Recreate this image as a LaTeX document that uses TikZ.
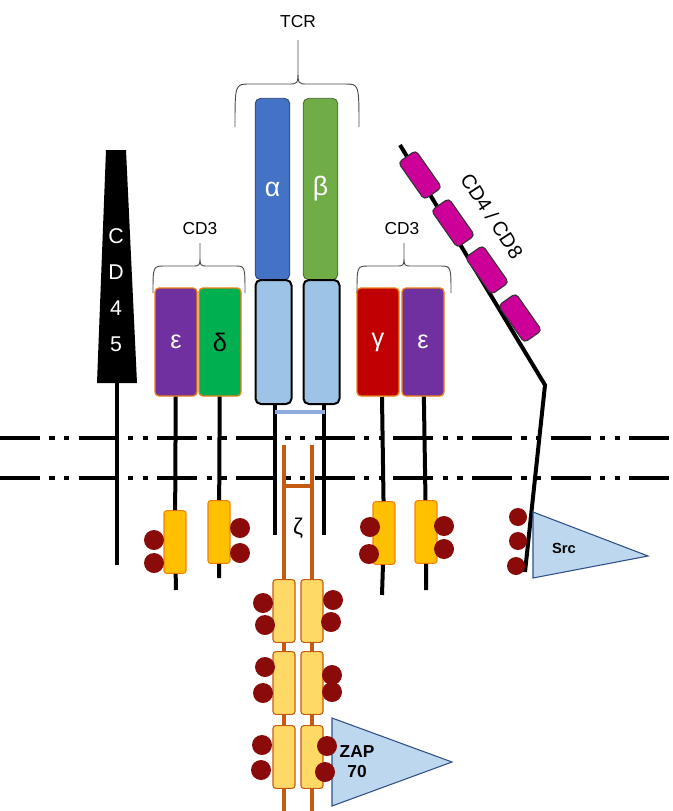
\documentclass[tikz,border=0pt]{standalone}
\usepackage{fontspec}
\setmainfont{Liberation Sans}
\usetikzlibrary{positioning, shapes.geometric}
\definecolor{cdpurple}{HTML}{7030A0}
\definecolor{cdgreen}{HTML}{00B050}
\definecolor{cdred}{HTML}{C00000}
\definecolor{tcrblue}{HTML}{4472C4}
\definecolor{tcrgreen}{HTML}{70AD47}
\definecolor{tcrlight}{HTML}{9DC3E6}
\definecolor{itam}{HTML}{FFC000}
\definecolor{itamlight}{HTML}{FFD966}
\definecolor{zorange}{HTML}{C55A11}
\definecolor{kinase}{HTML}{BDD7EE}
\definecolor{phos}{HTML}{8B0A0A}
\definecolor{cdmag}{HTML}{CC0099}

\begin{document}
\begin{tikzpicture}[x=0.75pt, y=-0.75pt,
        chain/.style={rectangle, draw=orange!70!brown, line width=1pt, rounded corners=3pt, minimum width=31.5pt, minimum height=81pt, inner sep=0pt, font=\fontsize{19}{19}\selectfont},
        tcr/.style={rectangle, draw=tcrblue!60!black, line width=0.6pt, rounded corners=4pt, minimum width=26pt, minimum height=136pt, inner sep=0pt, text=white, font=\fontsize{20}{20}\selectfont},
        tcrlow/.style={rectangle, draw, line width=1.5pt, fill=tcrlight, rounded corners=4pt, minimum width=27pt, minimum height=93pt, inner sep=0pt},
        itam/.style={rectangle, draw=orange!80!brown, line width=0.8pt, fill=itam, rounded corners=2pt, minimum width=16.5pt, minimum height=47pt, inner sep=0pt},
        zitam/.style={itam, fill=itamlight, draw=zorange, minimum height=47pt},
        tail/.style={line width=3pt},
        ztail/.style={line width=3pt, zorange},
        dot/.style={fill=phos},
        membrane/.style={line width=3pt, dash pattern=on 30pt off 7pt on 4pt off 7pt on 4pt off 7pt},
        kin/.style={draw=tcrblue!70!black, fill=kinase, line width=0.8pt},
        cdbox/.style={rectangle, draw=black!80, line width=0.8pt, fill=cdmag, rounded corners=3pt, minimum width=34pt, minimum height=16pt, inner sep=0pt, rotate=-55},
        br/.style={line width=0.7pt, draw=black!70},
        lbl/.style={font=\fontsize{13}{13}\selectfont}
        ]
\useasboundingbox (0,0) rectangle (673,811);

% membrane
\draw[membrane] (0,438) -- (673,438);
\draw[membrane] (0,478) -- (673,478);

% CD45
\fill (106,150) -- (126,150) -- (137,383) -- (97,383) -- cycle;
\node[text=white, align=center, font=\fontsize{16}{27}\selectfont] (cd45) at (116,290) {C\\D\\4\\5};
\coordinate (cd45end) at (117,565);
\draw[tail] (117,383) -- (cd45end);

% CD3 left
\node[chain, fill=cdpurple, text=white] (eps1) at (176,342) {ε};
\node[chain, fill=cdgreen] (delta) at (220,342) {δ};
\node[itam] (eps1itam) at (175,542) {};
\node[itam] (deltaitam) at (219,532) {};
\coordinate (eps1end) at (176,590);
\coordinate (deltaend) at (219,578);
\draw[tail] (eps1) -- (eps1itam) -- (eps1end);
\draw[tail] (delta) -- (deltaitam) -- (deltaend);
\foreach \x/\y in {154/540, 154/563, 240/528, 240/553}
    \fill[dot] (\x,\y) circle (10);
\draw[br] (153,293) .. controls (153,266) .. (165,266) -- (192,266) .. controls (200,266) .. (200,256) -- (200,243)
          (200,256) .. controls (200,266) .. (208,266) -- (235,266) .. controls (245,266) .. (245,293);
\node[lbl] (cd3left) at (200,229) {CD3};

% TCR
\node[tcr, fill=tcrblue] (alpha) at (272.5,189) {α};
\node[tcr, fill=tcrgreen, draw=tcrgreen!60!black] (beta) at (320.5,189) {β};
\node[tcrlow] (alphalow) at (273.5,342) {};
\node[tcrlow] (betalow) at (321.5,342) {};
\coordinate (alphaend) at (275,535);
\coordinate (betaend) at (324,535);
\draw[tail] (275,404) -- (alphaend);
\draw[tail] (324,404) -- (betaend);
\draw[line width=3pt, tcrblue!60] (275,412) -- (325,412);
\draw[br] (235,127) .. controls (235,84) .. (250,84) -- (288,84) .. controls (298,84) .. (298,70) -- (298,40)
          (298,70) .. controls (298,84) .. (308,84) -- (345,84) .. controls (359,84) .. (359,127);
\node[lbl] (tcrlabel) at (298,22) {TCR};

% zeta chains
\node[zitam] (z1a) at (284,611) {};
\node[zitam] (z1b) at (312,611) {};
\node[zitam] (z2a) at (284,683) {};
\node[zitam] (z2b) at (312,683) {};
\node[zitam] (z3a) at (284,757) {};
\node[zitam] (z3b) at (312,757) {};
\coordinate (zatop) at (284,445);
\coordinate (zbtop) at (312,445);
\coordinate (zaend) at (284,811);
\coordinate (zbend) at (312,811);
\draw[ztail] (zatop) -- (z1a) -- (z2a) -- (z3a) -- (zaend);
\draw[ztail] (zbtop) -- (z1b) -- (z2b) -- (z3b) -- (zbend);
\draw[ztail] (284,486) -- (312,486);
\node[font=\fontsize{17}{17}\selectfont] (zeta) at (298,528) {ζ};
\foreach \x/\y in {263/603, 265/625, 333/600, 331/622, 265/667, 263/693, 332/675, 332/692}
    \fill[dot] (\x,\y) circle (10);

% ZAP70
\draw[kin] (332,718) -- (452,762) -- (332,806) -- cycle;
\foreach \x/\y in {262/745, 261/770, 327/746, 325/772}
    \fill[dot] (\x,\y) circle (10);
\node[align=center, font=\bfseries\fontsize{13}{15}\selectfont] (zap) at (357,762) {ZAP\\70};

% CD3 right
\node[chain, fill=cdred, text=white] (gamma) at (378,342) {γ};
\node[chain, fill=cdpurple, text=white] (eps2) at (423,342) {ε};
\node[itam] (gammaitam) at (384,533) {};
\node[itam] (eps2itam) at (426,532) {};
\coordinate (gammaend) at (382,595);
\coordinate (eps2end) at (426,590);
\draw[tail] (382,397) -- (gammaitam) -- (gammaend);
\draw[tail] (eps2) -- (eps2itam) -- (eps2end);
\foreach \x/\y in {370/527, 369/554, 444/526, 444/549}
    \fill[dot] (\x,\y) circle (10);
\draw[br] (357,293) .. controls (357,266) .. (369,266) -- (396,266) .. controls (404,266) .. (404,256) -- (404,243)
          (404,256) .. controls (404,266) .. (412,266) -- (440,266) .. controls (451,266) .. (451,293);
\node[lbl] (cd3right) at (402,229) {CD3};

% CD4 / CD8
\coordinate (cdtop) at (400,145);
\coordinate (cdknee) at (545,385);
\coordinate (cdend) at (525,572);
\draw[tail] (cdtop) -- (cdknee) -- (cdend);
\foreach \x/\y [count=\i] in {420/175, 453/223, 487/270, 520/318}
    \node[cdbox] (cd\i) at (\x,\y) {};
\node[font=\fontsize{15}{15}\selectfont, rotate=-57] (cdlabel) at (492,216) {CD4 / CD8};
\draw[kin] (533,512) -- (648,556) -- (533,578) -- cycle;
\foreach \x/\y in {518/517, 518/541, 516/566}
    \fill[dot] (\x,\y) circle (9);
\node[font=\bfseries\fontsize{11}{11}\selectfont] (src) at (564,548) {Src};
\end{tikzpicture}
\end{document}
